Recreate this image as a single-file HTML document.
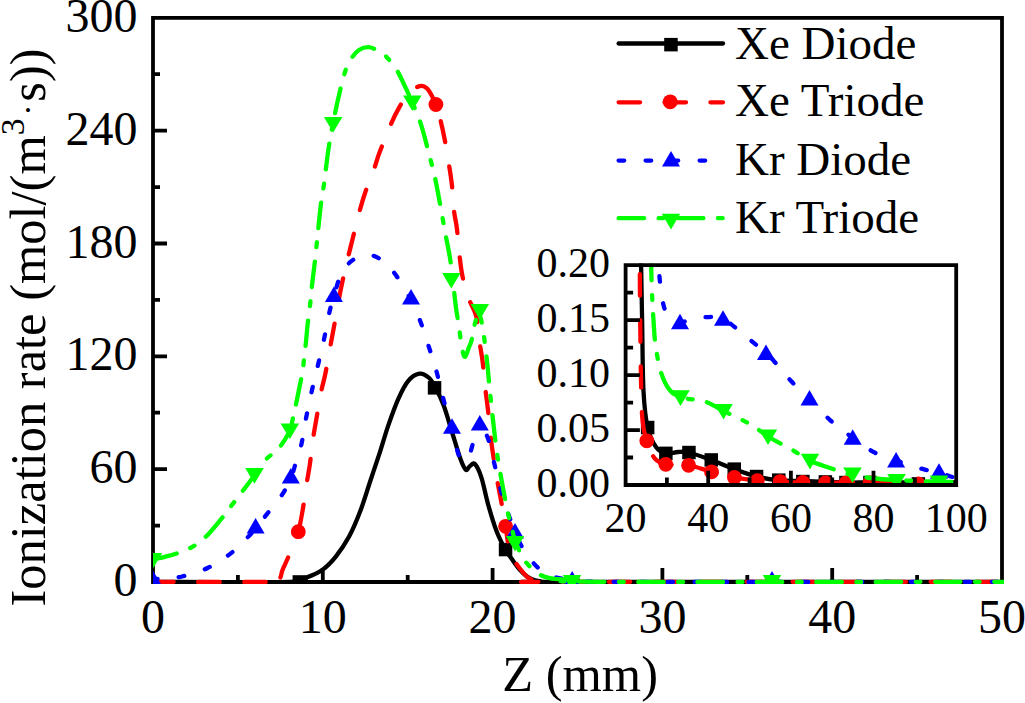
<!DOCTYPE html><html><head><meta charset="utf-8"><style>html,body{margin:0;padding:0;background:#fff;}svg{display:block;}</style></head><body>
<svg width="1025" height="703" viewBox="0 0 1025 703" font-family='"Liberation Serif", serif'>
<rect width="1025" height="703" fill="#fff"/>
<defs><clipPath id="cm"><rect x="153" y="15" width="851" height="569"/></clipPath><clipPath id="ci"><rect x="624" y="263.5" width="334" height="223.3"/></clipPath></defs>
<path d="M153.0,17.8 V582.0 H1002.0 V17.8 Z" fill="none" stroke="#000" stroke-width="3.8" stroke-linejoin="miter"/>
<path d="M237.9,583.5 V575.0 M322.8,583.5 V568.0 M407.7,583.5 V575.0 M492.6,583.5 V568.0 M577.5,583.5 V575.0 M662.4,583.5 V568.0 M747.3,583.5 V575.0 M832.2,583.5 V568.0 M917.1,583.5 V575.0 M153.0,525.6 H160.0 M153.0,469.2 H167.0 M153.0,412.7 H160.0 M153.0,356.3 H167.0 M153.0,299.9 H160.0 M153.0,243.5 H167.0 M153.0,187.1 H160.0 M153.0,130.6 H167.0 M153.0,74.2 H160.0 " stroke="#000" stroke-width="3.8"/>
<g clip-path="url(#cm)">
<path d="M152.00,581.80 C175.00,581.80 264.25,582.52 290.00,581.80 C315.75,581.08 301.02,579.57 306.50,577.50 C311.98,575.43 317.98,572.93 322.90,569.40 C327.82,565.87 331.63,561.77 336.00,556.30 C340.37,550.83 345.02,544.23 349.10,536.60 C353.18,528.97 356.97,519.77 360.50,510.50 C364.03,501.23 367.03,490.82 370.30,481.00 C373.57,471.18 377.10,460.87 380.10,451.60 C383.10,442.33 385.30,434.12 388.30,425.40 C391.30,416.68 394.83,406.65 398.10,399.30 C401.37,391.95 404.35,385.57 407.90,381.30 C411.45,377.03 415.85,374.25 419.40,373.70 C422.95,373.15 426.50,375.65 429.20,378.00 C431.90,380.35 433.17,383.17 435.60,387.80 C438.03,392.43 441.07,398.43 443.80,405.80 C446.53,413.17 449.27,423.27 452.00,432.00 C454.73,440.73 457.90,451.92 460.20,458.20 C462.50,464.48 464.17,468.40 465.80,469.70 C467.43,471.00 468.48,466.93 470.00,466.00 C471.52,465.07 472.98,462.13 474.90,464.10 C476.82,466.07 479.32,471.15 481.50,477.80 C483.68,484.45 485.55,495.27 488.00,504.00 C490.45,512.73 493.37,522.70 496.20,530.20 C499.03,537.70 502.48,544.32 505.00,549.00 C507.52,553.68 508.83,554.85 511.30,558.30 C513.77,561.75 516.73,566.38 519.80,569.70 C522.87,573.02 526.15,576.23 529.70,578.20 C533.25,580.17 536.05,580.90 541.10,581.50 C546.15,582.10 483.02,581.75 560.00,581.80 C636.98,581.85 929.17,581.80 1003.00,581.80" fill="none" stroke="#000000" stroke-width="4.3" stroke-linejoin="round" stroke-linecap="round"/><rect x="292.6" y="575.2" width="13.5" height="13.5" fill="#000000"/><rect x="427.8" y="381.1" width="13.5" height="13.5" fill="#000000"/><rect x="498.8" y="542.8" width="13.5" height="13.5" fill="#000000"/><rect x="565.2" y="575.2" width="13.5" height="13.5" fill="#000000"/><rect x="765.2" y="575.2" width="13.5" height="13.5" fill="#000000"/>
<path d="M152.00,581.80 C172.00,581.80 250.75,582.27 272.00,581.80 C293.25,581.33 277.75,580.97 279.50,579.00 C281.25,577.03 281.25,573.17 282.50,570.00 C283.75,566.83 285.25,564.00 287.00,560.00 C288.75,556.00 291.12,550.72 293.00,546.00 C294.88,541.28 296.70,537.62 298.30,531.70" fill="none" stroke="#ff0000" stroke-width="4.3" stroke-linejoin="round" stroke-linecap="round" stroke-dasharray="21.5 24.4" stroke-dashoffset="45.61"/><path d="M298.30,531.70 C299.90,525.78 301.23,518.40 302.60,510.50 C303.97,502.60 305.30,491.93 306.50,484.30 C307.70,476.67 308.70,472.33 309.80,464.70 C310.90,457.07 312.00,446.13 313.10,438.50 C314.20,430.87 315.03,426.80 316.40,418.90 C317.77,411.00 319.80,398.67 321.30,391.10 C322.80,383.53 323.77,381.65 325.40,373.50 C327.03,365.35 329.45,351.20 331.10,342.20 C332.75,333.20 333.65,328.50 335.30,319.50 C336.95,310.50 338.85,298.63 341.00,288.20 C343.15,277.77 346.30,264.97 348.20,256.90 C350.10,248.83 350.52,247.38 352.40,239.80 C354.28,232.22 357.35,219.33 359.50,211.40 C361.65,203.47 362.90,199.20 365.30,192.20 C367.70,185.20 371.52,176.05 373.90,169.40 C376.28,162.75 376.75,159.88 379.60,152.30 C382.45,144.72 387.68,131.48 391.00,123.90 C394.32,116.32 396.67,111.70 399.50,106.80 C402.33,101.90 405.47,97.57 408.00,94.50 C410.53,91.43 412.43,89.85 414.70,88.40 C416.97,86.95 419.55,85.82 421.60,85.80 C423.65,85.78 425.43,86.90 427.00,88.30 C428.57,89.70 429.52,91.50 431.00,94.20 C432.48,96.90 434.28,100.03 435.90,104.50" fill="none" stroke="#ff0000" stroke-width="4.3" stroke-linejoin="round" stroke-linecap="round" stroke-dasharray="21.5 24.4" stroke-dashoffset="39.51"/><path d="M435.90,104.50 C437.52,108.97 439.18,114.92 440.70,121.00 C442.22,127.08 443.57,133.40 445.00,141.00 C446.43,148.60 448.12,159.02 449.30,166.60 C450.48,174.18 451.30,179.03 452.10,186.50 C452.90,193.97 453.30,204.42 454.10,211.40 C454.90,218.38 455.97,220.82 456.90,228.40 C457.83,235.98 458.75,248.83 459.70,256.90 C460.65,264.97 461.08,269.83 462.60,276.80 C464.12,283.77 466.53,292.13 468.80,298.70 C471.07,305.27 474.35,308.65 476.20,316.20 C478.05,323.75 478.82,336.30 479.90,344.00 C480.98,351.70 481.77,354.73 482.70,362.40 C483.63,370.07 484.62,382.07 485.50,390.00 C486.38,397.93 487.03,401.37 488.00,410.00 C488.97,418.63 489.93,431.03 491.30,441.80 C492.67,452.57 494.57,464.77 496.20,474.60 C497.83,484.43 499.53,492.18 501.10,500.80 C502.67,509.42 504.37,518.93 505.60,526.30" fill="none" stroke="#ff0000" stroke-width="4.3" stroke-linejoin="round" stroke-linecap="round" stroke-dasharray="21.5 24.4" stroke-dashoffset="28.53"/><path d="M505.60,526.30 C506.83,533.67 507.27,539.72 508.50,545.00 C509.73,550.28 511.17,554.17 513.00,558.00 C514.83,561.83 517.00,564.75 519.50,568.00 C522.00,571.25 524.58,575.25 528.00,577.50 C531.42,579.75 534.67,580.78 540.00,581.50 C545.33,582.22 482.83,581.75 560.00,581.80 C637.17,581.85 929.17,581.80 1003.00,581.80" fill="none" stroke="#ff0000" stroke-width="4.3" stroke-linejoin="round" stroke-linecap="round" stroke-dasharray="21.5 24.4" stroke-dashoffset="6.29"/><circle cx="298.3" cy="531.7" r="7.4" fill="#ff0000"/><circle cx="435.9" cy="104.5" r="7.4" fill="#ff0000"/><circle cx="505.6" cy="526.3" r="7.4" fill="#ff0000"/><circle cx="572.0" cy="582.0" r="7.4" fill="#ff0000"/><circle cx="772.0" cy="582.0" r="7.4" fill="#ff0000"/>
<path d="M152.00,579.00 C154.17,578.92 160.00,578.92 165.00,578.50 C170.00,578.08 174.90,578.25 182.00,576.50 C189.10,574.75 199.42,571.90 207.60,568.00 C215.78,564.10 224.87,557.77 231.10,553.10 C237.33,548.43 240.92,544.10 245.00,540.00 C249.08,535.90 251.88,532.90 255.60,528.50 C259.32,524.10 262.85,519.28 267.30,513.60 C271.75,507.92 278.38,500.27 282.30,494.40 C286.22,488.53 288.52,483.80 290.80,478.40 C293.08,473.00 294.20,467.83 296.00,462.00 C297.80,456.17 299.95,450.58 301.60,443.40 C303.25,436.22 304.27,427.35 305.90,418.90 C307.53,410.45 309.38,401.70 311.40,392.70 C313.42,383.70 315.90,373.78 318.00,364.90 C320.10,356.02 322.05,348.38 324.00,339.40 C325.95,330.42 328.05,318.12 329.70,311.00 C331.35,303.88 332.18,302.37 333.90,296.70 C335.62,291.03 337.38,282.68 340.00,277.00 C342.62,271.32 346.27,265.93 349.60,262.60 C352.93,259.27 356.22,258.18 360.00,257.00 C363.78,255.82 368.30,254.67 372.30,255.50 C376.30,256.33 380.20,258.92 384.00,262.00 C387.80,265.08 390.65,267.73 395.10,274.00 C399.55,280.27 406.43,291.55 410.70,299.60 C414.97,307.65 417.62,314.25 420.70,322.30 C423.78,330.35 426.60,339.83 429.20,347.90 C431.80,355.97 434.05,362.63 436.30,370.70 C438.55,378.77 440.92,389.42 442.70,396.30 C444.48,403.18 445.45,406.60 447.00,412.00 C448.55,417.40 450.07,421.55 452.00,428.70 C453.93,435.85 456.77,449.68 458.60,454.90 C460.43,460.12 461.37,459.45 463.00,460.00 C464.63,460.55 466.57,461.53 468.40,458.20 C470.23,454.87 472.10,445.45 474.00,440.00 C475.90,434.55 477.47,425.73 479.80,425.50" fill="none" stroke="#0000ff" stroke-width="4.3" stroke-linejoin="round" stroke-linecap="round" stroke-dasharray="5.6 21.4" stroke-dashoffset="0.00"/><path d="M479.80,425.50 C482.13,425.27 485.53,432.07 488.00,438.60 C490.47,445.13 492.42,455.98 494.60,464.70 C496.78,473.42 498.87,482.85 501.10,490.90 C503.33,498.95 505.68,506.23 508.00,513.00 C510.32,519.77 512.67,525.83 515.00,531.50" fill="none" stroke="#0000ff" stroke-width="4.3" stroke-linejoin="round" stroke-linecap="round" stroke-dasharray="5.6 21.4" stroke-dashoffset="14.16"/><path d="M515.00,531.50 C517.33,537.17 519.40,542.30 522.00,547.00 C524.60,551.70 526.98,555.40 530.60,559.70 C534.22,564.00 539.33,569.80 543.70,572.80 C548.07,575.80 552.08,576.58 556.80,577.70 C561.52,578.82 564.80,578.82 572.00,579.50 C579.20,580.18 528.17,581.42 600.00,581.80 C671.83,582.18 935.83,581.80 1003.00,581.80" fill="none" stroke="#0000ff" stroke-width="4.3" stroke-linejoin="round" stroke-linecap="round" stroke-dasharray="5.6 21.4" stroke-dashoffset="16.63"/><path d="M153.0,570.5 L162.0,586.0 L144.0,586.0Z" fill="#0000ff"/><path d="M255.6,518.0 L264.6,533.5 L246.6,533.5Z" fill="#0000ff"/><path d="M290.8,467.9 L299.8,483.4 L281.8,483.4Z" fill="#0000ff"/><path d="M333.9,286.5 L342.9,302.0 L324.9,302.0Z" fill="#0000ff"/><path d="M411.0,289.1 L420.0,304.6 L402.0,304.6Z" fill="#0000ff"/><path d="M452.0,418.2 L461.0,433.7 L443.0,433.7Z" fill="#0000ff"/><path d="M479.8,415.0 L488.8,430.5 L470.8,430.5Z" fill="#0000ff"/><path d="M515.0,523.0 L524.0,538.5 L506.0,538.5Z" fill="#0000ff"/><path d="M572.2,571.0 L581.2,586.5 L563.2,586.5Z" fill="#0000ff"/><path d="M772.0,571.0 L781.0,586.5 L763.0,586.5Z" fill="#0000ff"/>
<path d="M152.00,559.50 C154.15,559.05 160.62,557.87 164.90,556.80 C169.18,555.73 173.07,554.78 177.70,553.10 C182.33,551.42 188.07,549.37 192.70,546.70 C197.33,544.03 200.88,541.55 205.50,537.10 C210.12,532.65 216.13,525.17 220.40,520.00 C224.67,514.83 227.55,510.72 231.10,506.10 C234.65,501.48 237.80,497.45 241.70,492.30 C245.60,487.15 250.58,480.53 254.50,475.20 C258.42,469.87 261.45,464.50 265.20,460.30 C268.95,456.10 273.87,453.22 277.00,450.00 C280.13,446.78 281.83,444.33 284.00,441.00 C286.17,437.67 288.42,434.25 290.00,430.00" fill="none" stroke="#00ff00" stroke-width="4.3" stroke-linejoin="round" stroke-linecap="round" stroke-dasharray="25.5 14.5 4.8 14.5" stroke-dashoffset="0.00"/><path d="M290.00,430.00 C291.58,425.75 292.45,420.05 293.50,415.50 C294.55,410.95 295.30,407.45 296.30,402.70 C297.30,397.95 298.47,392.12 299.50,387.00 C300.53,381.88 301.75,376.62 302.50,372.00 C303.25,367.38 303.40,364.55 304.00,359.30 C304.60,354.05 305.45,346.77 306.10,340.50 C306.75,334.23 307.20,327.97 307.90,321.70 C308.60,315.43 309.62,308.97 310.30,302.90 C310.98,296.83 311.15,292.97 312.00,285.30 C312.85,277.63 314.35,266.38 315.40,256.90 C316.45,247.42 317.35,237.42 318.30,228.40 C319.25,219.38 320.13,210.27 321.10,202.80 C322.07,195.33 322.88,192.48 324.10,183.60 C325.32,174.72 326.88,159.68 328.40,149.50 C329.92,139.32 331.55,131.03 333.20,122.50" fill="none" stroke="#00ff00" stroke-width="4.3" stroke-linejoin="round" stroke-linecap="round" stroke-dasharray="25.5 14.5 4.8 14.5" stroke-dashoffset="33.00"/><path d="M333.20,122.50 C334.85,113.97 336.33,106.72 338.30,98.30 C340.27,89.88 342.72,78.80 345.00,72.00 C347.28,65.20 349.67,61.17 352.00,57.50 C354.33,53.83 356.30,51.72 359.00,50.00 C361.70,48.28 365.20,47.20 368.20,47.20 C371.20,47.20 374.15,48.60 377.00,50.00 C379.85,51.40 382.03,52.30 385.30,55.60 C388.57,58.90 393.28,64.58 396.60,69.80 C399.92,75.02 402.58,81.45 405.20,86.90 C407.82,92.35 409.70,96.33 412.30,102.50" fill="none" stroke="#00ff00" stroke-width="4.3" stroke-linejoin="round" stroke-linecap="round" stroke-dasharray="25.5 14.5 4.8 14.5" stroke-dashoffset="49.87"/><path d="M412.30,102.50 C414.90,108.67 418.20,116.07 420.80,123.90 C423.40,131.73 425.53,140.50 427.90,149.50 C430.27,158.50 433.02,169.02 435.00,177.90 C436.98,186.78 438.05,193.43 439.80,202.80 C441.55,212.17 443.83,225.08 445.50,234.10 C447.17,243.12 448.62,249.55 449.80,256.90 C450.98,264.25 451.58,269.85 452.60,278.20" fill="none" stroke="#00ff00" stroke-width="4.3" stroke-linejoin="round" stroke-linecap="round" stroke-dasharray="25.5 14.5 4.8 14.5" stroke-dashoffset="38.67"/><path d="M452.60,278.20 C453.62,286.55 454.95,299.65 455.90,307.00 C456.85,314.35 457.23,315.22 458.30,322.30 C459.37,329.38 461.17,343.73 462.30,349.50 C463.43,355.27 464.02,357.22 465.10,356.90 C466.18,356.58 467.72,350.38 468.80,347.60 C469.88,344.82 470.67,343.88 471.60,340.20 C472.53,336.52 473.17,329.87 474.40,325.50 C475.63,321.13 477.57,313.25 479.00,314.00" fill="none" stroke="#00ff00" stroke-width="4.3" stroke-linejoin="round" stroke-linecap="round" stroke-dasharray="25.5 14.5 4.8 14.5" stroke-dashoffset="44.48"/><path d="M479.00,314.00 C480.43,314.75 481.70,322.45 483.00,330.00 C484.30,337.55 485.70,349.67 486.80,359.30 C487.90,368.93 488.57,377.68 489.60,387.80 C490.63,397.92 491.63,408.27 493.00,420.00 C494.37,431.73 495.47,443.37 497.80,458.20 C500.13,473.03 504.80,498.03 507.00,509.00 C509.20,519.97 509.67,518.83 511.00,524.00 C512.33,529.17 512.83,534.05 515.00,540.00" fill="none" stroke="#00ff00" stroke-width="4.3" stroke-linejoin="round" stroke-linecap="round" stroke-dasharray="25.5 14.5 4.8 14.5" stroke-dashoffset="16.24"/><path d="M515.00,540.00 C517.17,545.95 520.32,554.23 524.00,559.70 C527.68,565.17 532.82,569.72 537.10,572.80 C541.38,575.88 544.28,577.03 549.70,578.20 C555.12,579.37 561.22,579.20 569.60,579.80 C577.98,580.40 527.77,581.47 600.00,581.80 C672.23,582.13 935.83,581.80 1003.00,581.80" fill="none" stroke="#00ff00" stroke-width="4.3" stroke-linejoin="round" stroke-linecap="round" stroke-dasharray="25.5 14.5 4.8 14.5" stroke-dashoffset="14.59"/><path d="M143.8,552.9 L162.2,552.9 L153.0,568.6Z" fill="#00ff00"/><path d="M245.2,468.1 L263.8,468.1 L254.5,483.8Z" fill="#00ff00"/><path d="M280.6,423.4 L299.1,423.4 L289.9,439.1Z" fill="#00ff00"/><path d="M323.9,116.9 L342.4,116.9 L333.2,132.6Z" fill="#00ff00"/><path d="M403.1,95.4 L421.6,95.4 L412.3,111.1Z" fill="#00ff00"/><path d="M442.1,272.9 L460.6,272.9 L451.3,288.6Z" fill="#00ff00"/><path d="M470.6,303.9 L489.1,303.9 L479.9,319.6Z" fill="#00ff00"/><path d="M505.8,535.9 L524.2,535.9 L515.0,551.6Z" fill="#00ff00"/><path d="M562.8,575.1 L581.2,575.1 L572.0,590.8Z" fill="#00ff00"/><path d="M762.8,575.1 L781.2,575.1 L772.0,590.8Z" fill="#00ff00"/>
</g>
<text x="153.0" y="632.5" font-size="48" text-anchor="middle">0</text>
<text x="322.8" y="632.5" font-size="48" text-anchor="middle">10</text>
<text x="492.6" y="632.5" font-size="48" text-anchor="middle">20</text>
<text x="662.4" y="632.5" font-size="48" text-anchor="middle">30</text>
<text x="832.2" y="632.5" font-size="48" text-anchor="middle">40</text>
<text x="1002.0" y="632.5" font-size="48" text-anchor="middle">50</text>
<text x="137.6" y="596.1" font-size="48" text-anchor="end">0</text>
<text x="137.6" y="483.3" font-size="48" text-anchor="end">60</text>
<text x="137.6" y="370.4" font-size="48" text-anchor="end">120</text>
<text x="137.6" y="257.6" font-size="48" text-anchor="end">180</text>
<text x="137.6" y="144.7" font-size="48" text-anchor="end">240</text>
<text x="137.6" y="31.9" font-size="48" text-anchor="end">300</text>
<text x="502.3" y="691.3" font-size="50.5">Z (mm)</text>
<text transform="translate(44.9,606.5) rotate(-90)" font-size="50.5">Ionization rate (mol/(m<tspan font-size="33.5" dy="-21">3</tspan><tspan font-size="34" dx="2.8" dy="15.2">&#183;</tspan><tspan dx="2.8" dy="5.8">s))</tspan></text>
<path d="M618.6,43.5 H723" stroke="#000000" stroke-width="4.3" stroke-linecap="round"/>
<rect x="664.2" y="37.9" width="13.5" height="13.5" fill="#000000"/>
<text x="735" y="58.7" font-size="47">Xe Diode</text>
<path d="M618.6,102.3 H723" stroke="#ff0000" stroke-width="4.3" stroke-linecap="round" stroke-dasharray="21.5 24.4"/>
<circle cx="670.2" cy="101.8" r="7.4" fill="#ff0000"/>
<text x="735" y="116.4" font-size="47">Xe Triode</text>
<path d="M618.6,160.6 H723" stroke="#0000ff" stroke-width="4.3" stroke-linecap="round" stroke-dasharray="5.6 21.4"/>
<path d="M671.0,151.1 L680.0,166.6 L662.0,166.6Z" fill="#0000ff"/>
<text x="735" y="175.3" font-size="47">Kr Diode</text>
<path d="M618.6,218.2 H723" stroke="#00ff00" stroke-width="4.3" stroke-linecap="round" stroke-dasharray="25.5 14.5 4.8 14.5"/>
<path d="M661.8,213.7 L680.2,213.7 L671.0,229.4Z" fill="#00ff00"/>
<text x="735" y="233.0" font-size="47">Kr Triode</text>
<rect x="625.6" y="265.2" width="330.6" height="219.8" fill="#fff"/>
<g clip-path="url(#ci)">
<path d="M640.50,255.00 C640.62,257.47 640.92,258.07 641.20,269.80 C641.48,281.53 641.82,305.23 642.20,325.40 C642.58,345.57 642.60,373.78 643.50,390.80 C644.40,407.82 645.52,418.13 647.60,427.50 C649.68,436.87 652.95,442.68 656.00,447.00 C659.05,451.32 662.23,452.57 665.90,453.40 C669.57,454.23 674.15,452.15 678.00,452.00 C681.85,451.85 683.47,451.17 689.00,452.50 C694.53,453.83 703.65,457.23 711.20,460.00 C718.75,462.77 726.75,466.35 734.30,469.10 C741.85,471.85 749.10,474.65 756.50,476.50 C763.90,478.35 770.97,479.45 778.70,480.20 C786.43,480.95 795.12,480.70 802.90,481.00 C810.68,481.30 818.22,481.75 825.40,482.00 C832.58,482.25 838.57,482.42 846.00,482.50 C853.43,482.58 858.00,482.50 870.00,482.50 C882.00,482.50 903.00,482.50 918.00,482.50 C933.00,482.50 953.00,482.50 960.00,482.50" fill="none" stroke="#000000" stroke-width="4.3" stroke-linejoin="round" stroke-linecap="round"/><rect x="640.9" y="420.8" width="13.5" height="13.5" fill="#000000"/><rect x="659.1" y="446.6" width="13.5" height="13.5" fill="#000000"/><rect x="682.2" y="445.8" width="13.5" height="13.5" fill="#000000"/><rect x="704.5" y="453.2" width="13.5" height="13.5" fill="#000000"/><rect x="727.5" y="462.4" width="13.5" height="13.5" fill="#000000"/><rect x="749.8" y="469.8" width="13.5" height="13.5" fill="#000000"/><rect x="772.0" y="473.4" width="13.5" height="13.5" fill="#000000"/><rect x="796.1" y="474.8" width="13.5" height="13.5" fill="#000000"/><rect x="818.6" y="475.2" width="13.5" height="13.5" fill="#000000"/><rect x="839.2" y="475.8" width="13.5" height="13.5" fill="#000000"/><rect x="863.2" y="475.8" width="13.5" height="13.5" fill="#000000"/><rect x="911.6" y="477.2" width="13.5" height="13.5" fill="#000000"/>
<path d="M639.80,255.00 C639.83,262.50 639.80,279.17 640.00,300.00 C640.20,320.83 640.58,360.00 641.00,380.00 C641.42,400.00 641.53,409.87 642.50,420.00 C643.47,430.13 644.83,434.50 646.80,440.80 C648.77,447.10 651.13,453.88 654.30,457.80 C657.47,461.72 660.08,463.05 665.80,464.30 C671.52,465.55 680.98,464.05 688.60,465.30 C696.22,466.55 703.87,469.78 711.50,471.80 C719.13,473.82 726.77,475.92 734.40,477.40 C742.03,478.88 749.67,480.00 757.30,480.70 C764.93,481.40 772.60,481.30 780.20,481.60 C787.80,481.90 772.93,482.35 802.90,482.50 C832.87,482.65 933.82,482.50 960.00,482.50" fill="none" stroke="#ff0000" stroke-width="4.3" stroke-linejoin="round" stroke-linecap="round" stroke-dasharray="21.5 24.4" stroke-dashoffset="26.55"/><circle cx="646.8" cy="440.8" r="7.4" fill="#ff0000"/><circle cx="665.8" cy="464.3" r="7.4" fill="#ff0000"/><circle cx="688.6" cy="465.3" r="7.4" fill="#ff0000"/><circle cx="711.5" cy="471.8" r="7.4" fill="#ff0000"/><circle cx="734.4" cy="477.4" r="7.4" fill="#ff0000"/><circle cx="757.3" cy="480.7" r="7.4" fill="#ff0000"/><circle cx="780.2" cy="481.6" r="7.4" fill="#ff0000"/><circle cx="802.9" cy="482.5" r="7.4" fill="#ff0000"/><circle cx="825.4" cy="483.0" r="7.4" fill="#ff0000"/><circle cx="846.0" cy="483.0" r="7.4" fill="#ff0000"/><circle cx="870.0" cy="483.0" r="7.4" fill="#ff0000"/><circle cx="918.4" cy="484.0" r="7.4" fill="#ff0000"/>
<path d="M659.20,262.00 C659.28,264.85 658.95,271.80 659.70,279.10 C660.45,286.40 661.98,299.32 663.70,305.80 C665.42,312.28 667.28,315.25 670.00,318.00 C672.72,320.75 676.33,322.13 680.00,322.30 C683.67,322.47 687.83,319.85 692.00,319.00 C696.17,318.15 699.83,317.23 705.00,317.20 C710.17,317.17 716.47,315.80 723.00,318.80 C729.53,321.80 737.03,329.50 744.20,335.20 C751.37,340.90 760.88,348.50 766.00,353.00 C771.12,357.50 770.72,357.52 774.90,362.20 C779.08,366.88 785.33,375.03 791.10,381.10 C796.87,387.17 802.97,392.07 809.50,398.60 C816.03,405.13 823.10,413.77 830.30,420.30 C837.50,426.83 845.27,432.40 852.70,437.80 C860.13,443.20 867.67,448.92 874.90,452.70 C882.13,456.48 887.77,457.68 896.10,460.50 C904.43,463.32 917.75,467.73 924.90,469.60 C932.05,471.47 934.95,470.63 939.00,471.70 C943.05,472.77 945.70,474.78 949.20,476.00 C952.70,477.22 958.20,478.50 960.00,479.00" fill="none" stroke="#0000ff" stroke-width="4.3" stroke-linejoin="round" stroke-linecap="round" stroke-dasharray="5.6 21.4" stroke-dashoffset="12.70"/><path d="M680.0,313.8 L689.0,329.3 L671.0,329.3Z" fill="#0000ff"/><path d="M723.0,310.3 L732.0,325.8 L714.0,325.8Z" fill="#0000ff"/><path d="M766.0,344.5 L775.0,360.0 L757.0,360.0Z" fill="#0000ff"/><path d="M809.5,390.1 L818.5,405.6 L800.5,405.6Z" fill="#0000ff"/><path d="M852.7,429.3 L861.7,444.8 L843.7,444.8Z" fill="#0000ff"/><path d="M896.1,452.0 L905.1,467.5 L887.1,467.5Z" fill="#0000ff"/><path d="M939.0,463.2 L948.0,478.7 L930.0,478.7Z" fill="#0000ff"/>
<path d="M651.00,255.00 C651.07,258.33 651.18,267.58 651.40,275.00 C651.62,282.42 651.95,292.00 652.30,299.50 C652.65,307.00 652.97,312.42 653.50,320.00 C654.03,327.58 654.27,336.33 655.50,345.00 C656.73,353.67 658.65,364.65 660.90,372.00 C663.15,379.35 665.73,384.88 669.00,389.10 C672.27,393.32 674.50,395.23 680.50,397.30 C686.50,399.37 697.83,399.22 705.00,401.50 C712.17,403.78 715.87,407.17 723.50,411.00 C731.13,414.83 743.38,420.25 750.80,424.50 C758.22,428.75 761.07,432.25 768.00,436.50 C774.93,440.75 785.40,445.95 792.40,450.00 C799.40,454.05 803.73,457.80 810.00,460.80 C816.27,463.80 823.00,465.63 830.00,468.00 C837.00,470.37 844.50,473.25 852.00,475.00 C859.50,476.75 867.67,477.67 875.00,478.50 C882.33,479.33 886.83,479.50 896.00,480.00 C905.17,480.50 919.33,481.17 930.00,481.50 C940.67,481.83 955.00,481.92 960.00,482.00" fill="none" stroke="#00ff00" stroke-width="4.3" stroke-linejoin="round" stroke-linecap="round" stroke-dasharray="25.5 14.5 4.8 14.5" stroke-dashoffset="0.00"/><path d="M671.2,390.2 L689.8,390.2 L680.5,405.9Z" fill="#00ff00"/><path d="M714.2,403.9 L732.8,403.9 L723.5,419.6Z" fill="#00ff00"/><path d="M758.8,429.4 L777.2,429.4 L768.0,445.1Z" fill="#00ff00"/><path d="M800.8,453.7 L819.2,453.7 L810.0,469.4Z" fill="#00ff00"/><path d="M843.2,467.4 L861.8,467.4 L852.5,483.1Z" fill="#00ff00"/><path d="M887.2,473.9 L905.8,473.9 L896.5,489.6Z" fill="#00ff00"/><path d="M929.8,475.4 L948.2,475.4 L939.0,491.1Z" fill="#00ff00"/>
</g>
<path d="M625.6,265.2 V485.0 H956.2 V265.2 Z" fill="none" stroke="#000" stroke-width="3.8"/>
<path d="M666.9,485.0 V477.5 M708.2,485.0 V470.7 M749.6,485.0 V477.5 M790.9,485.0 V470.7 M832.2,485.0 V477.5 M873.5,485.0 V470.7 M914.9,485.0 V477.5 M625.6,457.5 H633.1 M625.6,430.1 H639.9 M625.6,402.6 H633.1 M625.6,375.1 H639.9 M625.6,347.6 H633.1 M625.6,320.1 H639.9 M625.6,292.7 H633.1 " stroke="#000" stroke-width="3.8"/>
<text x="625.6" y="532" font-size="42" text-anchor="middle">20</text>
<text x="708.2" y="532" font-size="42" text-anchor="middle">40</text>
<text x="790.9" y="532" font-size="42" text-anchor="middle">60</text>
<text x="873.5" y="532" font-size="42" text-anchor="middle">80</text>
<text x="956.2" y="532" font-size="42" text-anchor="middle">100</text>
<text x="610.1" y="496.6" font-size="42" text-anchor="end">0.00</text>
<text x="610.1" y="441.7" font-size="42" text-anchor="end">0.05</text>
<text x="610.1" y="386.7" font-size="42" text-anchor="end">0.10</text>
<text x="610.1" y="331.8" font-size="42" text-anchor="end">0.15</text>
<text x="610.1" y="276.8" font-size="42" text-anchor="end">0.20</text>
</svg></body></html>
